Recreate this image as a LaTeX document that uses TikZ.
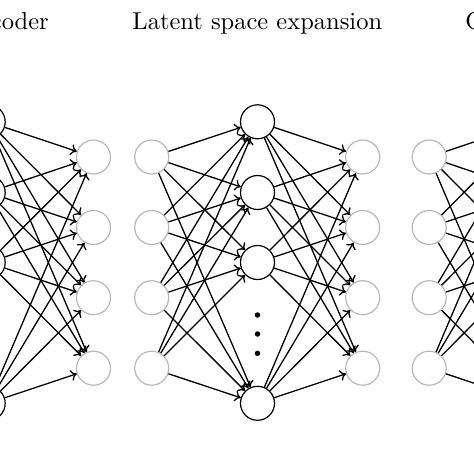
\documentclass[tikz,border=0pt]{standalone}
\usetikzlibrary{arrows.meta}
\definecolor{nodegray}{HTML}{B8B8B8}
\tikzset{
  blackneuron/.style={circle,draw=black,line width=1.2pt,minimum size=34pt,inner sep=0pt},
  grayneuron/.style={circle,draw=nodegray,line width=1.2pt,minimum size=34pt,inner sep=0pt},
  conn/.style={-{To[length=6pt,width=11pt]},line width=1.3pt,black},
  dotnode/.style={circle,fill=black,minimum size=5.5pt,inner sep=0pt},
  titletext/.style={inner sep=0pt,font=\fontsize{10}{12}\selectfont,scale=2.45}
}
\begin{document}
\begin{tikzpicture}[x=1pt,y=-1pt]
\useasboundingbox (0,0) rectangle (474,474);
\clip (0,0) rectangle (474,474);
% titles
\node[titletext,anchor=base east] (tenc) at (49.3,29.5) {Encoder};
\node[titletext,anchor=base] (tlat) at (257.3,29.5) {Latent space expansion};
\node[titletext,anchor=base west] (tcls) at (465,29.5) {Classifier};
% black (latent) columns
\foreach \i/\y in {1/121.8,2/192.5,3/262.5,4/403.3}{
  \node[blackneuron] (L\i) at (-11.8,\y) {};
  \node[blackneuron] (M\i) at (257.5,\y) {};
  \node[blackneuron] (R\i) at (534,\y) {};
}
% gray columns
\foreach \i/\y in {1/157,2/227.5,3/297.7,4/368.2}{
  \node[grayneuron] (A\i) at (93.5,\y) {};
  \node[grayneuron] (B\i) at (151.7,\y) {};
  \node[grayneuron] (C\i) at (362.7,\y) {};
  \node[grayneuron] (D\i) at (429.2,\y) {};
}
% dots
\node[dotnode] (md1) at (257.5,315) {};
\node[dotnode] (md2) at (257.5,334) {};
\node[dotnode] (md3) at (257.5,353.3) {};
% connections
\foreach \i in {1,...,4}{
  \foreach \j in {1,...,4}{
    \draw[conn] (L\i) -- (A\j);
    \draw[conn] (B\i) -- (M\j);
    \draw[conn] (M\i) -- (C\j);
    \draw[conn] (D\i) -- (R\j);
  }
}
\end{tikzpicture}
\end{document}
